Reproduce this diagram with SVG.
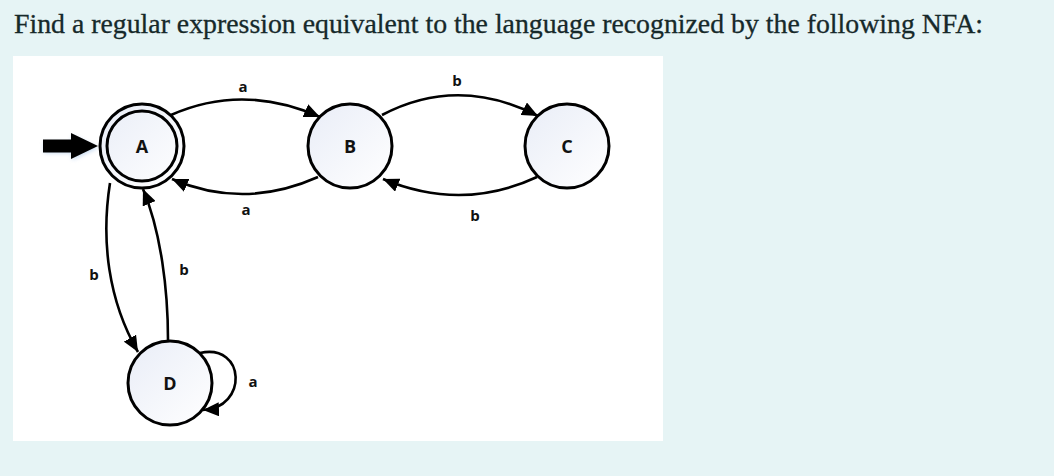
<svg xmlns="http://www.w3.org/2000/svg" width="1054" height="476" viewBox="0 0 1054 476">
<defs>
<linearGradient id="nodeFill" x1="0" y1="0" x2="1" y2="1">
<stop offset="0" stop-color="#e9edf7"/>
<stop offset="1" stop-color="#ffffff"/>
</linearGradient>
<marker id="arr" markerUnits="userSpaceOnUse" markerWidth="18" markerHeight="14" refX="16" refY="7" orient="auto">
<path d="M0,0 L16,7 L0,14 Z" fill="#000"/>
</marker>
<filter id="glow" x="-20%" y="-50%" width="140%" height="220%">
<feGaussianBlur stdDeviation="2"/>
</filter>
</defs>
<style>
.node{fill:url(#nodeFill);stroke:#000;stroke-width:3}
.inner{fill:none;stroke:#000;stroke-width:3}
.edge{fill:none;stroke:#000;stroke-width:2.6;marker-end:url(#arr)}
.lbl{font-family:"Open Sans","Liberation Sans",sans-serif;font-weight:700;font-size:15px;fill:#111;text-anchor:middle}
.nlbl{font-family:"Open Sans","Liberation Sans",sans-serif;font-weight:700;font-size:18px;fill:#111;text-anchor:middle}
</style>
<rect width="1054" height="476" fill="#e6f4f5"/>
<text x="14" y="33" font-family="Georgia,'Liberation Serif',serif" font-size="27" fill="#16292a" stroke="#16292a" stroke-width="0.3" textLength="969" lengthAdjust="spacingAndGlyphs">Find a regular expression equivalent to the language recognized by the following NFA:</text>
<rect x="13" y="56" width="650" height="385" fill="#ffffff"/>

<g id="start">
<path d="M44,142 L72,142 L72,135 L98,148 L72,160 L72,153 L44,153 Z" fill="#8fb4e0" opacity="0.5" filter="url(#glow)"/>
<path d="M43,139.5 L71,139.5 L71,133 L98,146 L71,159 L71,152.5 L43,152.5 Z" fill="#000"/>
</g>

<g id="connectors">
<path class="edge" d="M171,115 Q243,83 320,117"/>
<text class="lbl" x="243" y="92">a</text>
<path class="edge" d="M318,177 Q244,210 172,179"/>
<text class="lbl" x="246" y="215">a</text>
<path class="edge" d="M382,115 Q458,75 538,116"/>
<text class="lbl" x="457" y="86">b</text>
<path class="edge" d="M537,177 Q462,212 383,179"/>
<text class="lbl" x="475" y="221">b</text>
<path class="edge" d="M110,183 C101,240 108,300 138,352"/>
<text class="lbl" x="94" y="280">b</text>
<path class="edge" d="M168,340 C168,290 161,232 143,189"/>
<text class="lbl" x="184" y="275">b</text>
<path class="edge" d="M200,353 C246,343 248,408 203,410"/>
<text class="lbl" x="253" y="387">a</text>
</g>

<g id="node-A">
<circle class="node" cx="142" cy="146" r="42"/>
<circle class="inner" cx="142" cy="146" r="35"/>
<text class="nlbl" x="142" y="153">A</text>
</g>
<g id="node-B">
<circle class="node" cx="350" cy="146" r="42"/>
<text class="nlbl" x="350" y="153">B</text>
</g>
<g id="node-C">
<circle class="node" cx="567" cy="146" r="42"/>
<text class="nlbl" x="567" y="153">C</text>
</g>
<g id="node-D">
<circle class="node" cx="170" cy="383" r="42"/>
<text class="nlbl" x="170" y="390">D</text>
</g>
</svg>
